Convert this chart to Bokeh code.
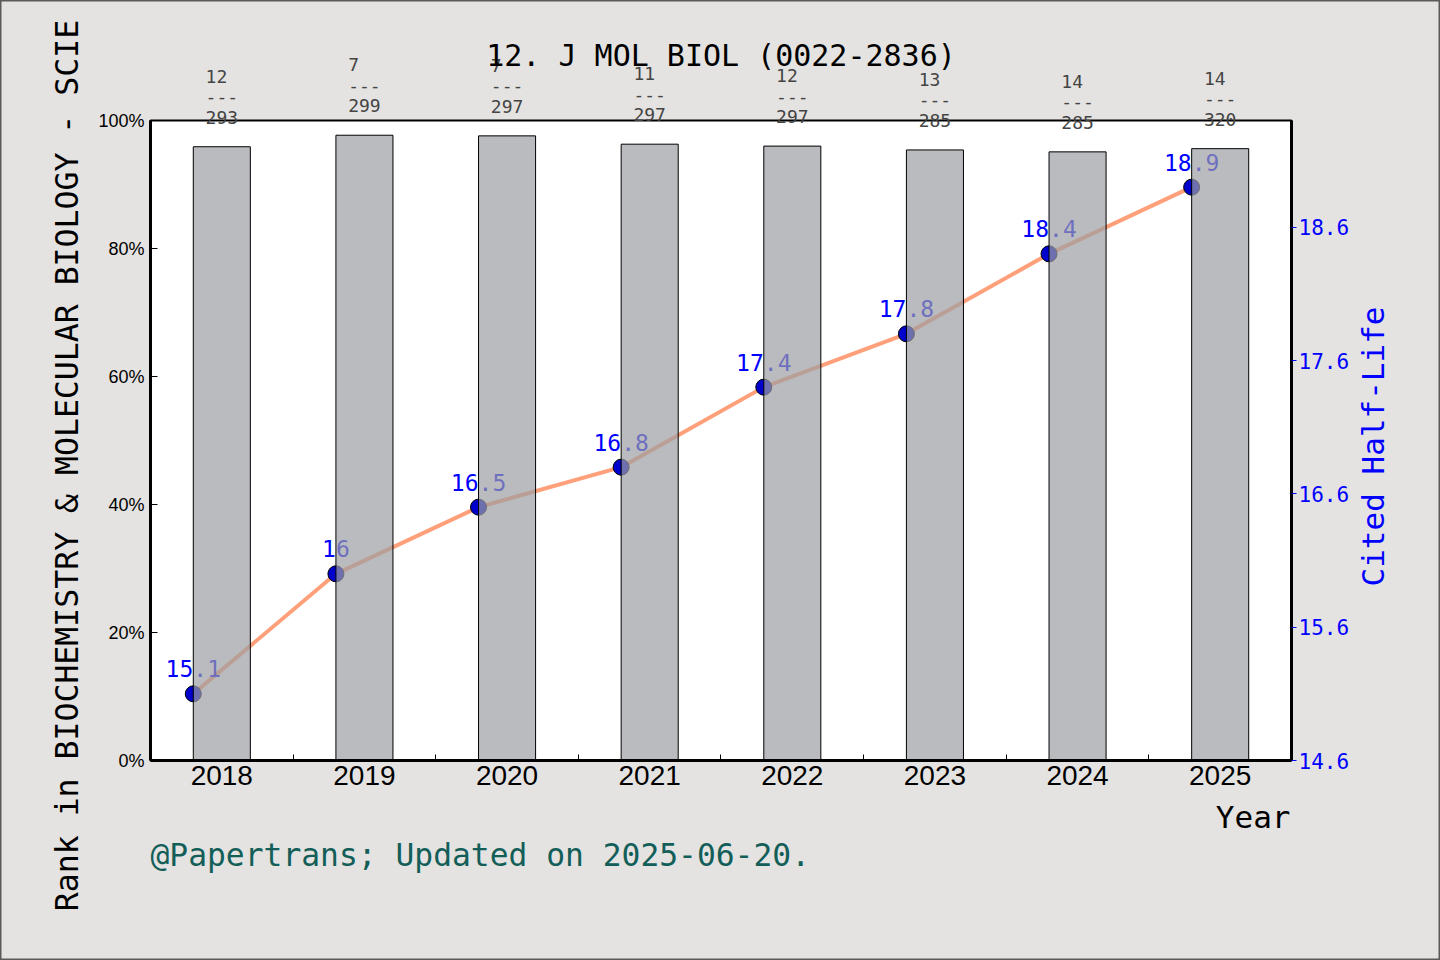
import math
from bokeh.plotting import figure
from bokeh.models import (ColumnDataSource, Range1d, LinearAxis, FixedTicker,
                          PrintfTickFormatter, Label, LabelSet, BoxAnnotation)
from bokeh.transform import dodge
from bokeh.core.properties import value
from bokeh.embed import file_html
from bokeh.resources import INLINE

# ---------------- data ----------------
years = [2018, 2019, 2020, 2021, 2022, 2023, 2024, 2025]
rank_pct = [95.9, 97.7, 97.6, 96.3, 96.0, 95.4, 95.1, 95.6]
ranks = [12, 7, 7, 11, 12, 13, 14, 14]
totals = [293, 299, 297, 297, 297, 285, 285, 320]
half_life = [15.1, 16.0, 16.5, 16.8, 17.4, 17.8, 18.4, 18.9]
half_life_labels = ["15.1", "16", "16.5", "16.8", "17.4", "17.8", "18.4", "18.9"]
pct_ticks = [0, 20, 40, 60, 80, 100]
hl_ticks = [14.6, 15.6, 16.6, 17.6, 18.6]
minor_year_ticks = [2018.5, 2019.5, 2020.5, 2021.5, 2022.5, 2023.5, 2024.5]

title_text = "12. J MOL BIOL (0022-2836)"
left_label = "Rank in BIOCHEMISTRY & MOLECULAR BIOLOGY - SCIE"
right_label = "Cited Half-Life"
x_label = "Year"
footer = "@Papertrans; Updated on 2025-06-20."

BG = "#e4e3e1"
MONO = "DejaVu Sans Mono"

# plotting area limits (data units)
X0, X1 = 2017.5, 2025.5
P0, P1 = 0, 100
H0, H1 = 14.6, 19.4

src = ColumnDataSource(dict(
    year=years, pct=rank_pct, hl=half_life, hl_txt=half_life_labels,
    frac=[f"{r}\n---\n{n}" for r, n in zip(ranks, totals)],
))

# the frame covers the whole canvas; the white plotting box sits inside it
p = figure(width=1440, height=960,
           x_range=Range1d(2016.44829, 2026.54470),
           y_range=Range1d(-31.25, 118.75),
           output_backend="svg", toolbar_location=None,
           min_border=0, background_fill_color=BG, border_fill_color=BG)
p.extra_y_ranges = {"hl": Range1d(13.1, 20.3)}
p.grid.visible = False
p.outline_line_color = "#5a5a5a"
p.outline_line_width = 2

p.add_layout(BoxAnnotation(left=X0, right=X1, bottom=P0, top=P1,
                           fill_color="white", fill_alpha=1,
                           line_color="black", line_width=2, line_alpha=1,
                           level="underlay"))

# x axis
xa = p.xaxis[0]
xa.fixed_location = P0
xa.bounds = (X0, X1)
xa.ticker = FixedTicker(ticks=years, minor_ticks=minor_year_ticks)
xa.axis_line_width = 3
xa.major_tick_in = 0
xa.major_tick_out = 0
xa.minor_tick_in = 6
xa.minor_tick_out = 0
xa.minor_tick_line_color = "black"
xa.major_label_text_font = "Liberation Sans"
xa.major_label_text_font_size = "28px"
xa.major_label_text_color = "black"
xa.major_label_standoff = 5

# left axis
ya = p.yaxis[0]
ya.fixed_location = X0
ya.bounds = (P0, P1)
ya.ticker = FixedTicker(ticks=pct_ticks)
ya.formatter = PrintfTickFormatter(format="%d%%")
ya.axis_line_width = 3
ya.major_tick_in = 7
ya.major_tick_out = 0
ya.minor_tick_line_color = None
ya.major_label_text_font = "Liberation Sans"
ya.major_label_text_font_size = "18px"
ya.major_label_text_color = "black"
ya.major_label_standoff = 6

# right axis
ra = LinearAxis(y_range_name="hl", ticker=FixedTicker(ticks=hl_ticks),
                formatter=PrintfTickFormatter(format="%.1f"),
                fixed_location=X1, bounds=(H0, H1))
ra.axis_line_width = 3
ra.axis_line_color = "black"
ra.major_tick_in = 0
ra.major_tick_out = 5
ra.major_tick_line_color = "blue"
ra.minor_tick_line_color = None
ra.major_label_text_font = MONO
ra.major_label_text_font_size = "21px"
ra.major_label_text_color = "blue"
ra.major_label_standoff = 2
p.add_layout(ra, "right")

# line + markers + value labels (under the semi-transparent bars)
xs = dodge("year", -0.2, range=p.x_range)
p.line(x=xs, y="hl", source=src, y_range_name="hl",
       line_color="lightsalmon", line_width=4)
p.scatter(x=xs, y="hl", source=src, y_range_name="hl", size=16,
          fill_color="mediumblue", line_color="black", line_width=1)
p.text(x=xs, y="hl", text="hl_txt", source=src, y_range_name="hl",
       text_font=value(MONO), text_font_size="23px", text_color="blue",
       text_align="center", text_baseline="alphabetic", y_offset=-25)

# bars
p.vbar(x="year", top="pct", width=0.4, source=src,
       fill_color="#9d9ea2", fill_alpha=0.7, line_color="black",
       line_width=1, line_alpha=1)

# rank fraction labels above bars
p.add_layout(LabelSet(x="year", y="pct", text="frac", source=src,
                      text_font=value(MONO), text_font_size="18px",
                      text_color="#444444", text_align="center",
                      text_baseline="bottom", y_offset=19,
                      text_line_height=0.98))

# texts around the plotting box
p.add_layout(Label(x=2021.5, y=110.16, text=title_text, text_font=MONO,
                   text_font_size="30px", text_color="black",
                   text_align="center", text_baseline="middle"))
p.add_layout(Label(x=2016.918, y=46.09, text=left_label, text_font=MONO,
                   text_font_size="31.5px", text_color="black", angle=math.pi / 2,
                   text_align="center", text_baseline="middle"))
p.add_layout(Label(x=2026.068, y=49.06, text=right_label, text_font=MONO,
                   text_font_size="31px", text_color="blue", angle=math.pi / 2,
                   text_align="center", text_baseline="middle"))
p.add_layout(Label(x=2025.493, y=-8.9, text=x_label, text_font=MONO,
                   text_font_size="31px", text_color="black",
                   text_align="right", text_baseline="middle"))
p.add_layout(Label(x=2017.5, y=-14.84, text=footer, text_font=MONO,
                   text_font_size="31.3px", text_color="#135e58",
                   text_align="left", text_baseline="middle"))

open("out.html", "w").write(file_html(p, INLINE))
